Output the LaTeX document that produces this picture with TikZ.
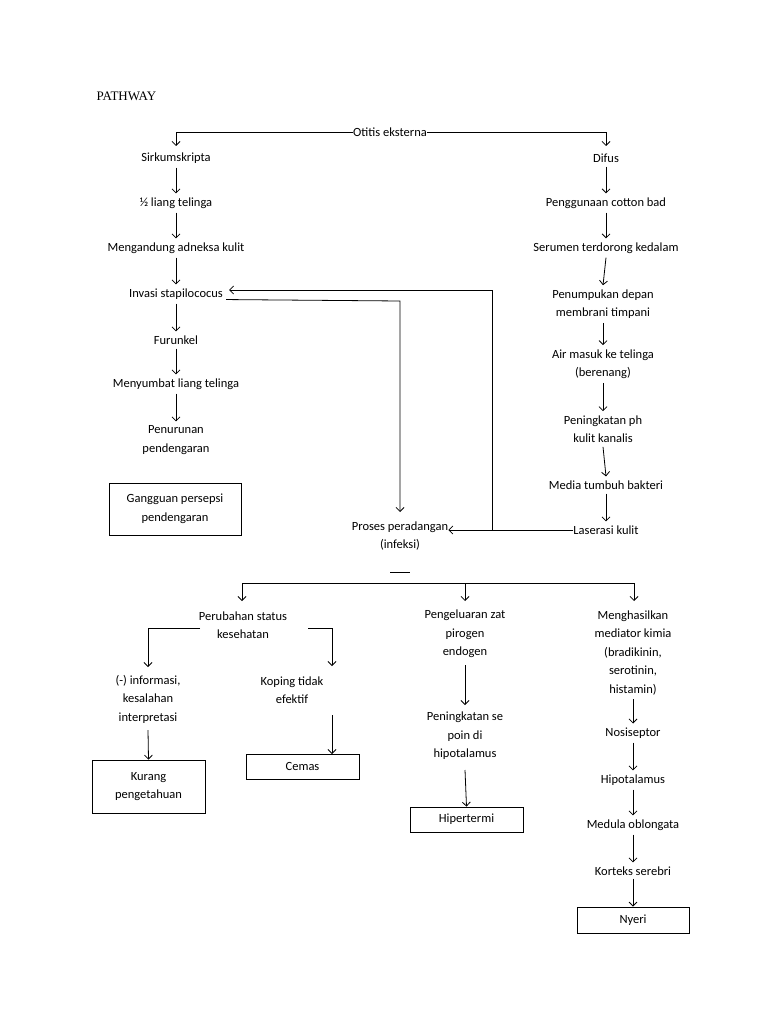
\documentclass[tikz,border=0pt]{standalone}
\usepackage{fontspec}
\setmainfont{Carlito}
\newfontfamily\titlefont{Liberation Serif}
\usetikzlibrary{arrows.meta}
\begin{document}
\begin{tikzpicture}[x=1pt,y=-1pt,
  t/.style={align=center,font=\fontsize{12.5}{18.5}\selectfont,inner sep=0pt},
  ar/.style={thick,-{Straight Barb[length=4pt,width=8pt]}},
  ln/.style={thick}]
\useasboundingbox (0,0) rectangle (768,1024);
\node[anchor=west,font=\titlefont\fontsize{13}{15}\selectfont] (title) at (93,96) {PATHWAY};
\node[t] (ot) at (390,132) {Otitis eksterna};
% left column
\node[t] (l1) at (176,158) {Sirkumskripta};
\node[t] (l2) at (176,203) {½ liang telinga};
\node[t] (l3) at (176,248) {Mengandung adneksa kulit};
\node[t] (l4) at (176,294) {Invasi stapilococus};
\node[t] (l5) at (176,340) {Furunkel};
\node[t] (l6) at (176,384) {Menyumbat liang telinga};
\node[t] (l7) at (176,440) {Penurunan\\pendengaran};
\node[t,draw,thick,minimum width=132pt,minimum height=52pt] (l8) at (175,509) {Gangguan persepsi\\pendengaran};
% right column
\node[t] (r1) at (606,158) {Difus};
\node[t] (r2) at (606,203) {Penggunaan cotton bad};
\node[t] (r3) at (606,248) {Serumen terdorong kedalam};
\node[t] (r4) at (603,304) {Penumpukan depan\\membrani timpani};
\node[t] (r5) at (603,364) {Air masuk ke telinga\\(berenang)};
\node[t] (r6) at (603,429) {Peningkatan ph\\kulit kanalis};
\node[t] (r7) at (606,485) {Media tumbuh bakteri};
\node[t] (r8) at (606,530) {Laserasi kulit};
% center
\node[t] (p) at (400,536) {Proses peradangan\\(infeksi)};
\draw[ln] (390,572) -- (410,572);
\node[t] (a) at (243,625) {Perubahan status\\kesehatan};
\node[t] (b) at (465,634) {Pengeluaran zat\\pirogen\\endogen};
\node[t] (c) at (633,653) {Menghasilkan\\mediator kimia\\(bradikinin,\\serotinin,\\histamin)};
\node[t] (a1) at (148,699) {(-) informasi,\\kesalahan\\interpretasi};
\node[t,draw,thick,minimum width=113pt,minimum height=53pt] (a2) at (148.5,786.5) {Kurang\\pengetahuan};
\node[t] (k1) at (292,690) {Koping tidak\\efektif};
\node[t,draw,thick,minimum width=113pt,minimum height=25pt] (k2) at (302.5,766.5) {Cemas};
\node[t] (b1) at (465,736) {Peningkatan se\\poin di\\hipotalamus};
\node[t,draw,thick,minimum width=113pt,minimum height=25pt] (b2) at (466.5,819.5) {Hipertermi};
\node[t] (c1) at (633,733) {Nosiseptor};
\node[t] (c2) at (633,780) {Hipotalamus};
\node[t] (c3) at (633,825) {Medula oblongata};
\node[t] (c4) at (633,871) {Korteks serebri};
\node[t,draw,thick,minimum width=112pt,minimum height=26pt] (c5) at (633,920) {Nyeri};
% connectors
\draw[ar] (ot.west) -- (176,132) -- (176,146);
\draw[ar] (ot.east) -- (606,132) -- (606,146);
\foreach \u/\v in {l1/l2,l2/l3,l3/l4,l4/l5,l5/l6,l6/l7,r1/r2,r2/r3,r3/r4,r4/r5,r5/r6,r6/r7,r7/r8,c/c1,c1/c2,c2/c3,c3/c4}
  \draw[ar] ([yshift=-4pt]\u.south) -- ([yshift=4pt]\v.north);
\draw[ar] ([yshift=-3pt]c4.south) -- (c5.north);
\draw[ar] (r8.west) -- (p.east |- r8.west);
\draw[ar] (492,530) -- (492,290) -- ([xshift=6pt]l4.east |- 0,290);
\draw[ar] ([xshift=3pt]l4.south east) -- (400,301) -- (400,512);
\coordinate (h1) at (242,583);
\coordinate (h2) at (634,583);
\draw[ln] (h1) -- (h2);
\draw[ar] (h1) -- (242,601);
\draw[ar] (465,583) -- (465,601);
\draw[ar] (h2) -- (634,601);
\draw[ar] (200,628) -- (148,628) -- (148,667);
\draw[ar] (308,628) -- (332,628) -- (332,666);
\draw[ar] (148,730) -- (a2.north);
\draw[ar] (332,715) -- (332,754);
\draw[ar] (465,665) -- (465,705);
\draw[ar] (465,770) -- (b2.north);
\end{tikzpicture}
\end{document}
